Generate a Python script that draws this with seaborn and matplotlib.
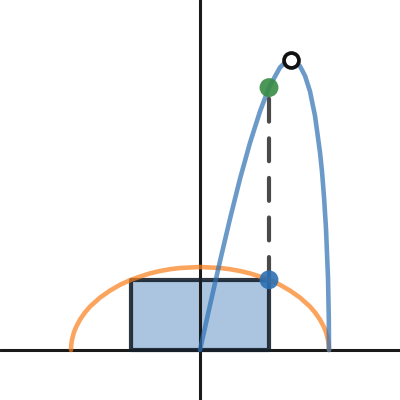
import matplotlib
matplotlib.use("Agg")
import matplotlib.pyplot as plt
import seaborn as sns
from matplotlib.patches import Rectangle

# half-ellipse (orange), values
ell_x = [-6.45, -6.44, -6.4, -6.3, -6.2, -6.0, -5.75, -5.5, -5.0, -4.5, -4.0, -3.5, -3.0,
         -2.5, -2.0, -1.5, -1.0, 0.0, 1.0, 1.5, 2.0, 2.5, 3.0, 3.5, 4.0, 4.5, 5.0,
         5.5, 5.75, 6.0, 6.2, 6.3, 6.4, 6.44, 6.45]
ell_y = [0.0, 0.23, 0.52, 0.89, 1.14, 1.52, 1.88, 2.17, 2.62, 2.97, 3.26, 3.49, 3.67,
         3.83, 3.95, 4.04, 4.10, 4.15, 4.10, 4.04, 3.95, 3.83, 3.67, 3.49, 3.26, 2.97, 2.62,
         2.17, 1.88, 1.52, 1.14, 0.89, 0.52, 0.23, 0.0]

# area curve (blue)
area_x = [0.0, 0.5, 1.0, 1.5, 2.0, 2.5, 3.0, 3.45, 3.5, 4.0, 4.25, 4.5, 4.75, 5.0,
          5.25, 5.5, 5.75, 6.0, 6.1, 6.2, 6.3, 6.4, 6.44, 6.45]
area_y = [0.0, 2.24, 4.44, 6.56, 8.56, 10.36, 11.93, 13.12, 13.22, 14.13, 14.37, 14.48,
          14.45, 14.19, 13.71, 12.93, 11.71, 9.88, 8.92, 7.66, 6.07, 3.61, 1.60, 0.0]

# rectangle and marked points
rect_half_w = 3.47
rect_h = 3.51
area_pt = (3.45, 13.12)
peak_pt = (4.56, 14.5)

blue = "#2d70b3"
orange = "#fa7e19"
green = "#388c46"

sns.set_style("white")
fig = plt.figure(figsize=(4, 4), dpi=100)
ax = fig.add_axes([0, 0, 1, 1])
ax.set_xlim(-10, 10)
ax.set_ylim(-2.5, 17.5)
ax.axis("off")

ax.add_patch(Rectangle((-rect_half_w, 0), 2 * rect_half_w, rect_h,
                       facecolor=blue, alpha=0.4, edgecolor="none", zorder=1))
ax.add_patch(Rectangle((-rect_half_w, 0), 2 * rect_half_w, rect_h,
                       facecolor="none", edgecolor="#17202c", lw=3, alpha=0.9,
                       joinstyle="round", zorder=3))

ax.axhline(0, color="#1a1a1a", lw=2.2, zorder=2)
ax.axvline(0, color="#1a1a1a", lw=2.2, zorder=2)

sns.lineplot(x=ell_x, y=ell_y, sort=False, color=orange, alpha=0.7, lw=3.3,
             ax=ax, zorder=4, solid_capstyle="round")
sns.lineplot(x=area_x, y=area_y, sort=False, color=blue, alpha=0.7, lw=3.3,
             ax=ax, zorder=4, solid_capstyle="round")

ax.plot([area_pt[0], area_pt[0]], [rect_h, area_pt[1]], color="#4a4a4a", lw=3,
        dashes=(5.5, 4), dash_capstyle="round", zorder=5)

ax.scatter([area_pt[0]], [area_pt[1]], s=185, color=green, alpha=0.9,
           edgecolors="none", zorder=6)
ax.scatter([area_pt[0]], [rect_h], s=185, color=blue, alpha=0.9,
           edgecolors="none", zorder=6)
ax.scatter([peak_pt[0]], [peak_pt[1]], s=115, facecolor="white",
           edgecolors="#111111", linewidths=2.7, zorder=7)

fig.savefig("out.png", dpi=100)
